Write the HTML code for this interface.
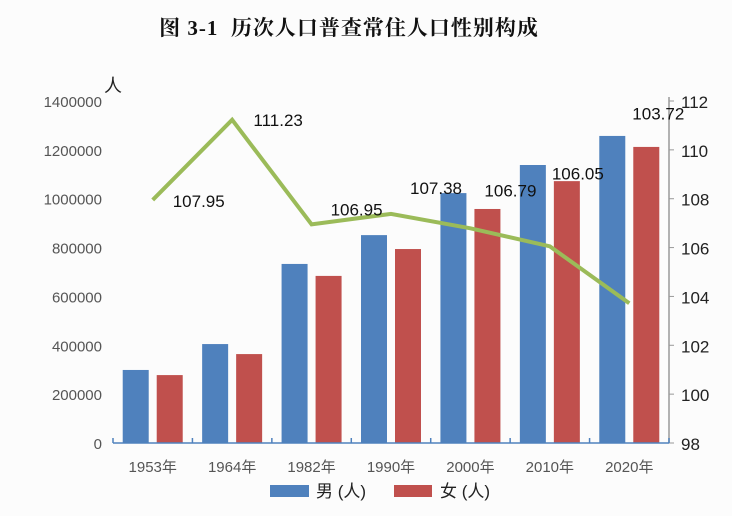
<!DOCTYPE html>
<html><head><meta charset="utf-8"><style>
body{margin:0;background:#fff;}
svg text{font-family:"Liberation Sans","Noto Sans CJK SC",sans-serif;}
</style></head><body>
<svg id="c" width="732" height="516" xmlns="http://www.w3.org/2000/svg">
<rect width="732" height="516" fill="#fcfcfc"/>
<text x="349" y="35" text-anchor="middle" font-size="21" font-weight="bold" fill="#111" letter-spacing="1" style="font-family:'Liberation Serif','Noto Serif CJK SC',serif;white-space:pre">图 3-1  历次人口普查常住人口性别构成</text>
<text x="104" y="92" font-size="18" fill="#222" style="font-family:'Noto Sans CJK SC',sans-serif">人</text>
<g id="g"></g>
<rect x="270" y="485" width="39" height="12" fill="#4f81bd"/>
<text x="316" y="497" font-size="17" fill="#222">男 (人)</text>
<rect x="394" y="485" width="38" height="12" fill="#c0504d"/>
<text x="440" y="497" font-size="17" fill="#222">女 (人)</text>
</svg>
<script>
const categories=["1953年","1964年","1982年","1990年","2000年","2010年","2020年"];
const male=[299000,405000,733000,851000,1023000,1138000,1257000];
const female=[278000,364000,684000,794000,958000,1072000,1212000];
const ratio=[107.95,111.23,106.95,107.38,106.79,106.05,103.72];
const leftTicks=[0,200000,400000,600000,800000,1000000,1200000,1400000];
const rightTicks=[98,100,102,104,106,108,110,112];
const labelOffset=[[46,1],[46,0],[45,-15],[45,-26],[40,-38],[28,-73],[29,-190]];
const NS="http://www.w3.org/2000/svg",g=document.getElementById('g');
const X0=113,X1=669,Y0=443,Y1=101,cw=(X1-X0)/categories.length;
const yL=v=>Y0-(v/1400000)*(Y0-Y1), yR=v=>Y0-(v-98)/14*(Y0-Y1), xc=i=>X0+cw*(i+0.5);
function el(t,a,txt){const e=document.createElementNS(NS,t);for(const k in a)e.setAttribute(k,a[k]);if(txt!=null)e.textContent=txt;g.appendChild(e);return e;}
leftTicks.forEach(v=>{const e=el('text',{x:102,y:yL(v)+6,'text-anchor':'end','font-size':15,fill:'#555'},v);

});
rightTicks.forEach(v=>{const e=el('text',{x:681,y:yR(v)+7,'font-size':17,fill:'#222'},v);


el('line',{x1:X1,x2:X1+5,y1:yR(v),y2:yR(v),stroke:'#999'});});
el('line',{x1:X1,x2:X1,y1:Y1-4,y2:Y0,stroke:'#999','stroke-width':1.5});
categories.forEach((c,i)=>{
const cx=xc(i);
const m=el('rect',{x:cx-30,y:yL(male[i]),width:26,height:Y0-yL(male[i]),fill:'#4f81bd'});


const f=el('rect',{x:cx+4,y:yL(female[i]),width:26,height:Y0-yL(female[i]),fill:'#c0504d'});


const t=el('text',{x:cx,y:472,'text-anchor':'middle','font-size':15,fill:'#555'},c);


});
el('line',{x1:X0,x2:X1,y1:Y0,y2:Y0,stroke:'#4f81bd','stroke-width':1.5});
for(let i=0;i<=categories.length;i++)el('line',{x1:X0+cw*i,x2:X0+cw*i,y1:Y0-5,y2:Y0,stroke:'#4f81bd','stroke-width':1.5});
const pl=el('polyline',{points:ratio.map((v,i)=>xc(i)+','+yR(v)).join(' '),fill:'none',stroke:'#9bbb59','stroke-width':4});


ratio.forEach((v,i)=>{const t=el('text',{x:xc(i)+labelOffset[i][0],y:yR(v)+labelOffset[i][1]+6,'text-anchor':'middle','font-size':17,fill:'#111'},v.toFixed(2));

});
</script>
</body></html>
